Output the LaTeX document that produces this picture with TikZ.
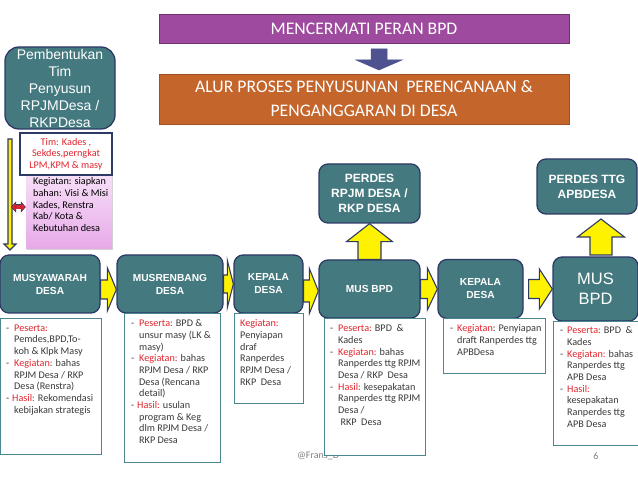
\documentclass[tikz,border=0pt]{standalone}
\usepackage{fontspec}
\setmainfont{Carlito}
\newfontfamily\arialfont{Liberation Sans}
\usetikzlibrary{arrows.meta,calc,shadows}

\definecolor{tealfill}{HTML}{43797F}
\definecolor{navyline}{HTML}{2D3A66}
\definecolor{boxline}{HTML}{4A8791}
\definecolor{ungu}{HTML}{9E4A9E}
\definecolor{jingga}{HTML}{C4652B}
\definecolor{bluearrow}{HTML}{4F5290}
\definecolor{merah}{HTML}{E0252D}
\definecolor{teksgelap}{HTML}{3A3A3A}
\definecolor{pinktop}{HTML}{F7DFF7}
\definecolor{pinkbottom}{HTML}{E7A9E9}

\newcommand{\poin}[2][8pt]{\makebox[#1][l]{-}\textcolor{merah}{#2}}
\newcommand{\lanjut}{\hspace*{8pt}}

\tikzset{
	banner/.style={rectangle,minimum width=410pt,text=white,align=center,font=\fontsize{17.7}{21}\selectfont},
	stage/.style={rectangle,rounded corners=9pt,draw=navyline,line width=1.3pt,fill=tealfill,text=white,align=center,inner sep=0pt,font=\arialfont\bfseries\fontsize{10.2}{13}\selectfont},
	infobox/.style={rectangle,draw=boxline,line width=1.2pt,fill=white,anchor=north west,inner sep=0pt},
	infotext/.style={anchor=north west,inner sep=0pt,align=left,text=teksgelap,font=\fontsize{10.2}{11.7}\selectfont},
	flow/.style n args={3}{draw=navyline,line width=1.1pt,fill=yellow,line join=miter,to path={
		let \p1=($(\tikztotarget)!#2!(\tikztostart)$) in
		-- ($(\tikztostart)!#1/2!90:(\tikztotarget)$)
		-- ($(\p1)!#1/2!90:(\tikztotarget)$)
		-- ($(\p1)!#3/2!90:(\tikztotarget)$)
		-- (\tikztotarget)
		-- ($(\p1)!#3/2!-90:(\tikztotarget)$)
		-- ($(\p1)!#1/2!-90:(\tikztotarget)$)
		-- ($(\tikztostart)!#1/2!-90:(\tikztotarget)$)
		-- cycle}},
	footnote/.style={text=gray,inner sep=0pt,font=\fontsize{10}{12}\selectfont}
}

\begin{document}
\begin{tikzpicture}[x=1pt,y=-1pt,node distance=120pt]
	\useasboundingbox (0,0) rectangle (638,478);

	\node[footnote] (Credit) at (318,456) {@Frans\_D};
	\node[footnote] (PageNo) at (596,456) {6};

	\node[banner,draw=ungu!70!black,fill=ungu,minimum height=29pt] (Title) at (364,28.5) {MENCERMATI PERAN BPD};
	\node[banner,draw=jingga!80!black,fill=jingga,minimum height=50pt] (Alur) at (364,99) {ALUR PROSES PENYUSUNAN\ \ PERENCANAAN \&\\[3pt]PENGANGGARAN DI DESA};
	\coordinate (TitleFoot) at (379,49);
	\coordinate (AlurHead) at (379,70);
	\draw[flow={16pt}{10pt}{46pt},draw=bluearrow,fill=bluearrow,line width=.5pt] (TitleFoot) to (AlurHead);

	\node[stage,rounded corners=14pt,minimum width=110pt,minimum height=82pt,font=\arialfont\fontsize{14}{17}\selectfont] (Bentuk) at (60,88) {Pembentukan\\Tim\\Penyusun\\RPJMDesa /\\RKPDesa};

	\node[rectangle,minimum width=86pt,minimum height=74pt,top color=pinktop,bottom color=pinkbottom,drop shadow={shadow xshift=.8pt,shadow yshift=-.8pt,fill=gray!70},inner sep=0pt] (Siapkan) at (69,212) {};
	\node[infotext,text=black] (SiapkanText) at (33,177.5) {Kegiatan: siapkan\\bahan: Visi \& Misi\\Kades, Renstra\\Kab/ Kota \&\\Kebutuhan desa};
	\node[rectangle,draw=navyline,line width=1.1pt,fill=white,minimum width=92pt,minimum height=42pt,text=merah,align=center,inner sep=0pt,font=\fontsize{10.2}{11.7}\selectfont] (TimBox) at (66,154) {Tim: Kades ,\\Sekdes,perngkat\\LPM,KPM \& masy};

	\coordinate (DownStart) at (10,139);
	\coordinate (DownEnd) at (10,250);
	\draw[flow={4pt}{6pt}{12pt}] (DownStart) to (DownEnd);
	\coordinate (PinkLeft) at (11,207);
	\draw[draw=navyline,line width=.5pt,double=merah,double distance=4pt,{Triangle[length=5pt,width=11pt,line width=.5pt,fill=merah]}-{Triangle[length=5pt,width=11pt,line width=.5pt,fill=merah]}] (PinkLeft) -- (PinkLeft -| Siapkan.west);

	\node[stage,minimum width=100pt,minimum height=58pt] (MusDes) at (50,284) {MUSYAWARAH\\DESA};
	\node[stage,minimum width=106pt,minimum height=58pt,right of=MusDes] (MusRen) {MUSRENBANG\\DESA};
	\node[stage,minimum width=69pt,minimum height=58pt,right of=MusRen,node distance=98.5pt] (KepalaA) {KEPALA\\DESA};
	\node[stage,minimum width=101pt,minimum height=58pt,right of=KepalaA,node distance=101pt,yshift=-5pt] (MusBPD) {MUS BPD};
	\node[stage,minimum width=85pt,minimum height=59pt,right of=MusBPD,node distance=111pt] (KepalaB) {KEPALA\\DESA};
	\node[stage,minimum width=85pt,minimum height=64pt,right of=KepalaB,node distance=115pt,font=\arialfont\fontsize{16.5}{20}\selectfont] (MusDua) {MUS\\BPD};

	\node[stage,minimum width=101pt,minimum height=59pt,font=\arialfont\bfseries\fontsize{12}{15}\selectfont] (PerdesA) at (369.5,193.5) {PERDES\\RPJM DESA /\\RKP DESA};
	\node[stage,minimum width=100pt,minimum height=55pt,font=\arialfont\bfseries\fontsize{12}{15}\selectfont] (PerdesB) at (587,186.5) {PERDES TTG\\APBDESA};

	\draw[flow={19pt}{9pt}{43pt}] ([yshift=-5.5pt]MusDes.east) to ([yshift=-5.5pt]MusRen.west);
	\draw[flow={18pt}{6pt}{47pt}] (MusRen.east) to (KepalaA.west);
	\draw[flow={22pt}{9pt}{45pt}] ([yshift=-2pt]MusBPD.west -| KepalaA.east) to ([yshift=-2pt]MusBPD.west);
	\draw[flow={19pt}{10pt}{42pt}] (MusBPD.east) to (MusBPD.east -| KepalaB.west);
	\draw[flow={19pt}{13pt}{40pt}] ([xshift=5pt]KepalaB.east) to (KepalaB.east -| MusDua.west);
	\draw[flow={23pt}{18pt}{46pt}] (MusBPD.north) to (PerdesA.south);
	\coordinate (TtgFoot) at (601,255);
	\coordinate (TtgTip) at (601,219);
	\draw[flow={22pt}{18pt}{47pt}] (TtgFoot) to (TtgTip);

	\node[infobox,minimum width=101pt,minimum height=136pt] (InfoA) at (0,318) {};
	\node[infotext] (InfoAText) at (6,324.5) {\poin{Peserta:}\\\lanjut Pemdes,BPD,To-\\\lanjut koh \& Klpk Masy\\\poin{Kegiatan:} bahas\\\lanjut RPJM Desa / RKP\\\lanjut Desa (Renstra)\\\poin[6pt]{Hasil:} Rekomendasi\\\lanjut kebijakan strategis};

	\node[infobox,minimum width=96pt,minimum height=149pt] (InfoB) at (124,313) {};
	\node[infotext] (InfoBText) at (131,319.5) {\poin{Peserta:} BPD \&\\\lanjut unsur masy (LK \&\\\lanjut masy)\\\poin{Kegiatan:} bahas\\\lanjut RPJM Desa / RKP\\\lanjut Desa (Rencana\\\lanjut detail)\\\poin[6pt]{Hasil:} usulan\\\lanjut program \& Keg\\\lanjut dlm RPJM Desa /\\\lanjut RKP Desa};

	\node[infobox,minimum width=69pt,minimum height=90pt] (InfoC) at (234,313) {};
	\node[infotext] (InfoCText) at (240,319.5) {\textcolor{merah}{Kegiatan:}\\Penyiapan\\draf\\Ranperdes\\RPJM Desa /\\RKP\ \ Desa};

	\node[infobox,minimum width=101pt,minimum height=137pt] (InfoD) at (324,318) {};
	\node[infotext] (InfoDText) at (330,324.5) {\poin{Peserta:} BPD\ \ \&\\\lanjut Kades\\\poin{Kegiatan:} bahas\\\lanjut Ranperdes ttg RPJM\\\lanjut Desa / RKP\ \ Desa\\\poin{Hasil:} kesepakatan\\\lanjut Ranperdes ttg RPJM\\\lanjut Desa /\\\lanjut\ RKP\ \ Desa};

	\node[infobox,minimum width=102pt,minimum height=55pt] (InfoE) at (443,318) {};
	\node[infotext] (InfoEText) at (450,324.5) {\poin[7pt]{Kegiatan}: Penyiapan\\\hspace*{7pt}draft Ranperdes ttg\\\hspace*{7pt}APBDesa};

	\node[infobox,minimum width=85pt,minimum height=124pt] (InfoF) at (553,321) {};
	\node[infotext] (InfoFText) at (560,326.5) {\poin[7pt]{Peserta:} BPD\ \ \&\\\hspace*{7pt}Kades\\\poin[7pt]{Kegiatan:} bahas\\\hspace*{7pt}Ranperdes ttg\\\hspace*{7pt}APB Desa\\\poin[7pt]{Hasil:}\\\hspace*{7pt}kesepakatan\\\hspace*{7pt}Ranperdes ttg\\\hspace*{7pt}APB Desa};
\end{tikzpicture}
\end{document}
